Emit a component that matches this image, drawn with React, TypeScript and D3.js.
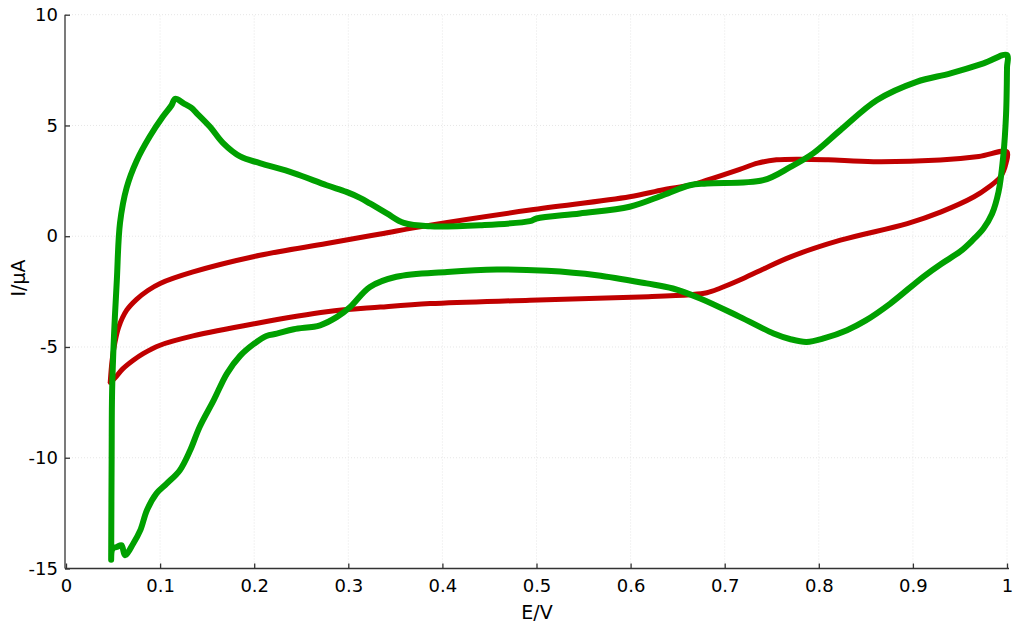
import { useEffect, useRef } from "react";
import * as d3 from "d3";

// red trace: forward sweep then reverse sweep
const redE = [
  0.047, 0.049, 0.052, 0.056, 0.0645, 0.075, 0.087, 0.1, 0.135, 0.206, 0.277, 0.334, 0.387, 0.493,
  0.599, 0.635, 0.663, 0.681, 0.716, 0.735, 0.755, 0.78, 0.81, 0.858, 0.929, 0.97, 1.0,
  0.999, 0.993, 0.98, 0.965, 0.93, 0.894, 0.823, 0.77, 0.74, 0.716, 0.695, 0.681, 0.663, 0.61,
  0.493, 0.387, 0.334, 0.277, 0.2, 0.135, 0.1, 0.082, 0.0715, 0.06, 0.052, 0.047,
];
const redI = [
  -6.6, -5.6, -4.8, -4.1, -3.34, -2.85, -2.45, -2.13, -1.61, -0.86, -0.33, 0.1, 0.5, 1.18,
  1.78, 2.1, 2.3, 2.53, 3.02, 3.3, 3.45, 3.48, 3.45, 3.36, 3.44, 3.6, 3.81,
  3.3, 2.68, 2.2, 1.78, 1.1, 0.57, -0.18, -0.93, -1.5, -1.98, -2.35, -2.55, -2.64, -2.74,
  -2.89, -3.04, -3.2, -3.41, -3.95, -4.5, -4.92, -5.3, -5.6, -6.0, -6.4, -6.6,
];

// green trace
const greenE = [
  0.048, 0.0485, 0.049, 0.051, 0.054, 0.0574, 0.0645, 0.075, 0.089, 0.103, 0.112, 0.116, 0.125,
  0.133, 0.139, 0.153, 0.167, 0.185, 0.206, 0.242, 0.277, 0.298, 0.313, 0.323, 0.341, 0.359,
  0.387, 0.44, 0.493, 0.5, 0.546, 0.599, 0.635, 0.663, 0.681, 0.741, 0.77, 0.794, 0.823, 0.862,
  0.904, 0.94, 0.975, 1.0,
  1.0, 0.999, 0.996, 0.991, 0.984, 0.975, 0.963, 0.95, 0.93, 0.911, 0.876, 0.85, 0.83, 0.806,
  0.787, 0.77, 0.752, 0.716, 0.674, 0.645, 0.617, 0.564, 0.511, 0.458, 0.405, 0.351, 0.323,
  0.302, 0.288, 0.27, 0.242, 0.224, 0.213, 0.2, 0.185, 0.171, 0.157, 0.142, 0.132,
  0.121, 0.107, 0.096, 0.086, 0.079, 0.0715, 0.0627, 0.059, 0.054, 0.0496, 0.048,
];
const greenI = [
  -14.6, -10, -7.0, -4.5, -2.0, 0.6, 2.2, 3.4, 4.5, 5.4, 5.9, 6.2, 6.0,
  5.8, 5.55, 4.94, 4.2, 3.6, 3.3, 2.85, 2.3, 2.0, 1.72, 1.48, 1.03, 0.6,
  0.45, 0.5, 0.68, 0.8, 1.03, 1.33, 1.86, 2.3, 2.38, 2.53, 3.13, 3.74, 4.79, 6.15,
  6.97, 7.35, 7.8, 8.18,
  7.6, 5.5, 3.6, 2.0, 1.0, 0.35, -0.2, -0.7, -1.25, -1.83, -3.04, -3.8, -4.24, -4.6,
  -4.77, -4.65, -4.39, -3.64, -2.81, -2.36, -2.13, -1.76, -1.56, -1.5, -1.61, -1.83, -2.29,
  -3.19, -3.64, -4.02, -4.2, -4.4, -4.5, -4.85, -5.4, -6.2, -7.4, -8.61, -9.66,
  -10.56, -11.17, -11.62, -12.37, -13.27, -13.87, -14.4, -13.95, -14.03, -14.1, -14.6,
];

const xTicks = [0, 0.1, 0.2, 0.3, 0.4, 0.5, 0.6, 0.7, 0.8, 0.9, 1];
const yTicks = [-15, -10, -5, 0, 5, 10];

const W = 1024;
const H = 632;
const FONT = "DejaVu Sans, sans-serif";

type Pt = [number, number];

export default function App() {
  const ref = useRef<SVGSVGElement>(null);

  useEffect(() => {
    const svg = d3.select(ref.current);
    svg.selectAll("*").remove();

    const x = d3.scaleLinear().domain([0, 1]).range([66, 1007]);
    const y = d3.scaleLinear().domain([-15, 10]).range([568.5, 14.7]);

    // grid
    const grid = svg.append("g");
    grid
      .selectAll(".gx")
      .data(xTicks.slice(1))
      .join("line")
      .attr("x1", (d) => x(d))
      .attr("x2", (d) => x(d))
      .attr("y1", y(-15))
      .attr("y2", y(10))
      .attr("stroke", "#e6e6e6")
      .attr("stroke-dasharray", "1,2");
    grid
      .selectAll(".gy")
      .data(yTicks.slice(1))
      .join("line")
      .attr("x1", x(0))
      .attr("x2", x(1))
      .attr("y1", (d) => y(d))
      .attr("y2", (d) => y(d))
      .attr("stroke", "#e6e6e6")
      .attr("stroke-dasharray", "1,2");

    const line = d3
      .line<Pt>()
      .x((d) => x(d[0]))
      .y((d) => y(d[1]))
      .curve(d3.curveCatmullRom.alpha(0.5));

    const red: Pt[] = redE.map((e, i) => [e, redI[i]]);
    const green: Pt[] = greenE.map((e, i) => [e, greenI[i]]);

    svg
      .append("path")
      .datum(red)
      .attr("fill", "none")
      .attr("stroke", "#c00000")
      .attr("stroke-width", 5)
      .attr("stroke-linejoin", "round")
      .attr("stroke-linecap", "round")
      .attr("d", line);

    svg
      .append("path")
      .datum(green)
      .attr("fill", "none")
      .attr("stroke", "#00a000")
      .attr("stroke-width", 6)
      .attr("stroke-linejoin", "round")
      .attr("stroke-linecap", "round")
      .attr("d", line);

    // axes
    const xAxis = svg
      .append("g")
      .attr("transform", `translate(0,${y(-15)})`)
      .call(
        d3
          .axisBottom(x)
          .tickValues(xTicks)
          .tickSize(-5)
          .tickPadding(11)
          .tickFormat((d) => String(d))
      );
    xAxis.select(".domain").attr("d", `M${x(0) - 1},0H${x(1) + 2}`);

    const yAxis = svg
      .append("g")
      .attr("transform", `translate(${x(0) - 1},0)`)
      .call(
        d3
          .axisLeft(y)
          .tickValues(yTicks)
          .tickSize(-5)
          .tickPadding(7)
          .tickFormat((d) => String(d))
      );
    yAxis.select(".domain").attr("d", `M0,${y(-15)}V${y(10)}`);

    [xAxis, yAxis].forEach((a) => {
      a.selectAll(".domain, .tick line").attr("stroke", "#333").attr("stroke-width", 1.3);
      a.selectAll("text").attr("font-family", FONT).attr("font-size", 18).attr("fill", "#000");
    });

    svg
      .append("text")
      .attr("x", 537)
      .attr("y", 619)
      .attr("text-anchor", "middle")
      .attr("font-family", FONT)
      .attr("font-size", 19)
      .text("E/V");

    svg
      .append("text")
      .attr("transform", "translate(25,278) rotate(-90)")
      .attr("text-anchor", "middle")
      .attr("font-family", FONT)
      .attr("font-size", 19)
      .text("I/μA");
  }, []);

  return (
    <div style={{ position: "absolute", left: 0, top: 0 }}>
      <svg ref={ref} width={W} height={H} style={{ display: "block", background: "#fff" }} />
    </div>
  );
}
